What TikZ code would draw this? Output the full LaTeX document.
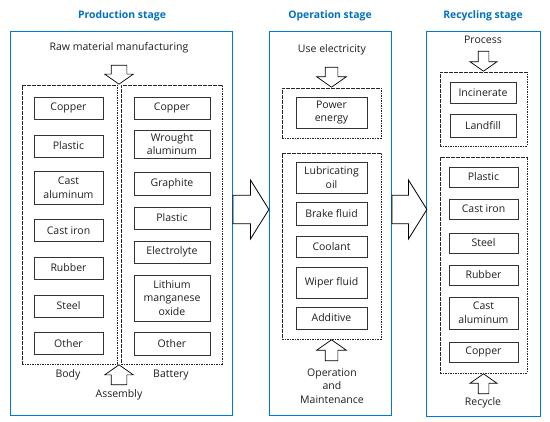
\documentclass[tikz,border=0pt]{standalone}
\usepackage{fontspec}
\setmainfont{Open Sans}
\definecolor{mytitleblue}{RGB}{0,112,192}
\definecolor{myframeblue}{RGB}{0,120,212}
\definecolor{mytext}{RGB}{30,30,30}
\usetikzlibrary{shapes.arrows,positioning,calc}

\begin{document}
\begin{tikzpicture}[
  x=1pt,y=-1pt,
  font=\fontsize{10.5}{13.5}\selectfont,
  text=mytext,
  stagebox/.style={
    draw=myframeblue,
    line width=1pt,
    inner sep=0pt
    },
  stagetitle/.style={
    font=\fontsize{10.4}{12}\selectfont\bfseries,
    text=mytitleblue
    },
  groupbox/.style={
    draw=black!85,
    line width=0.8pt,
    dash pattern=on 1.6pt off 0.9pt,
    inner sep=0pt
    },
  itembox/.style={
    draw=black!80,
    line width=0.9pt,
    inner sep=0pt,
    align=center
    },
  blockarrow/.style={
    draw=black,
    line width=0.7pt,
    single arrow,
    inner xsep=0pt,
    inner ysep=7.5pt,
    minimum height=20,
    minimum width=28,
    single arrow head extend=6.5,
    single arrow tip angle=110
    },
  bigarrow/.style={
    blockarrow,
    line width=0.8pt,
    inner ysep=13.8pt,
    minimum height=36,
    minimum width=58,
    single arrow head extend=15.2,
    single arrow tip angle=116
    }
]
\useasboundingbox (0,0) rectangle (550,422);

\node[stagebox, minimum width=222, minimum height=384] (prod) at (121,224) {};
\node[stagebox, minimum width=122, minimum height=384] (oper) at (330,224) {};
\node[stagebox, minimum width=114, minimum height=385] (recy) at (483,224.5) {};

\node[stagetitle] (prodtitle) at (122,16) {Production stage};
\node[stagetitle] (opertitle) at (330,16) {Operation stage};
\node[stagetitle] (recytitle) at (483,16) {Recycling stage};

\node[groupbox, minimum width=95, minimum height=279] (body) at (69.5,224.5) {};
\node[groupbox, minimum width=101, minimum height=279] (battery) at (171.5,224.5) {};
\node[groupbox, minimum width=99, minimum height=50] (elec) at (331.5,113) {};
\node[groupbox, minimum width=99, minimum height=186] (fluid) at (331.5,246) {};
\node[groupbox, minimum width=87, minimum height=74] (dispose) at (483.5,109) {};
\node[groupbox, minimum width=87, minimum height=216] (reuse) at (483.5,265) {};

\foreach \Item/\Posy/\Height [count=\Itemi from 1] in {Copper/108/22, Plastic/146/22, {Cast\\aluminum}/188/33, Cast iron/230.5/22, Rubber/268/22, Steel/306/22, Other/343.5/22}
  \node[itembox, minimum width=69, minimum height=\Height] (body\Itemi) at (68.5,\Posy) {\Item};

\foreach \Item/\Posy/\Height [count=\Itemi from 1] in {Copper/108/22, {Wrought\\aluminum}/144/28, Graphite/183.5/23, Plastic/218/22, Electrolyte/252/22, {Lithium\\manganese\\oxide}/298/46, Other/343.5/23}
  \node[itembox, minimum width=76, minimum height=\Height] (battery\Itemi) at (172,\Posy) {\Item};

\node[itembox, minimum width=71, minimum height=31] (elec1) at (331.5,112.5) {Power\\energy};

\foreach \Item/\Posy/\Height [count=\Itemi from 1] in {{Lubricating\\oil}/177.5/31, Brake fluid/213.5/23, Coolant/246.5/21, Wiper fluid/282.5/31, Additive/318/22}
  \node[itembox, minimum width=71, minimum height=\Height] (fluid\Itemi) at (331.5,\Posy) {\Item};

\node[itembox, minimum width=66, minimum height=21] (dispose1) at (483,92.5) {Incinerate};
\node[itembox, minimum width=66, minimum height=23] (dispose2) at (483,125.5) {Landfill};

\foreach \Item/\Posy/\Height [count=\Itemi from 1] in {Plastic/177/20, Cast iron/209/20, Steel/243/20, Rubber/275/20, {Cast\\aluminum}/313/32, Copper/352/20}
  \node[itembox, minimum width=69, minimum height=\Height] (reuse\Itemi) at (483.5,\Posy) {\Item};

\node (raw) at (119,48) {Raw material manufacturing};
\node (bodylabel) at (68,375) {Body};
\node (batterylabel) at (171,375) {Battery};
\node (assembly) at (119,395) {Assembly};
\node (useelec) at (332,50) {Use electricity};
\node[align=center] (maint) at (332,386) {Operation\\and\\Maintenance};
\node (process) at (483,40) {Process};
\node (recycle) at (483,403) {Recycle};

\node[blockarrow, rotate=-90, minimum height=19, anchor=tip] (rawarrow) at ($(body.north east)!0.5!(battery.north west)$) {};
\node[blockarrow, rotate=90, minimum height=20, anchor=tip] (asmarrow) at ($(body.south east)!0.5!(battery.south west)$) {};
\node[blockarrow, rotate=-90, inner ysep=6pt, minimum width=29, single arrow head extend=8.5, anchor=tip] (elecarrow) at (elec.north) {};
\node[blockarrow, rotate=90, inner ysep=6pt, minimum width=29, minimum height=21, single arrow head extend=8.5, anchor=tip] (maintarrow) at (fluid.south) {};
\node[blockarrow, rotate=-90, inner ysep=5pt, minimum width=26, single arrow head extend=8, anchor=tip] (processarrow) at (dispose.north) {};
\node[blockarrow, rotate=90, inner ysep=5pt, minimum width=26, single arrow head extend=8, anchor=tip] (recyclearrow) at (reuse.south) {};

\node[bigarrow, anchor=tail] (prodoper) at ([yshift=14.5pt]prod.east) {};
\node[bigarrow, minimum height=35, anchor=tail] (operrecy) at ([yshift=14.5pt]oper.east) {};

\end{tikzpicture}
\end{document}
